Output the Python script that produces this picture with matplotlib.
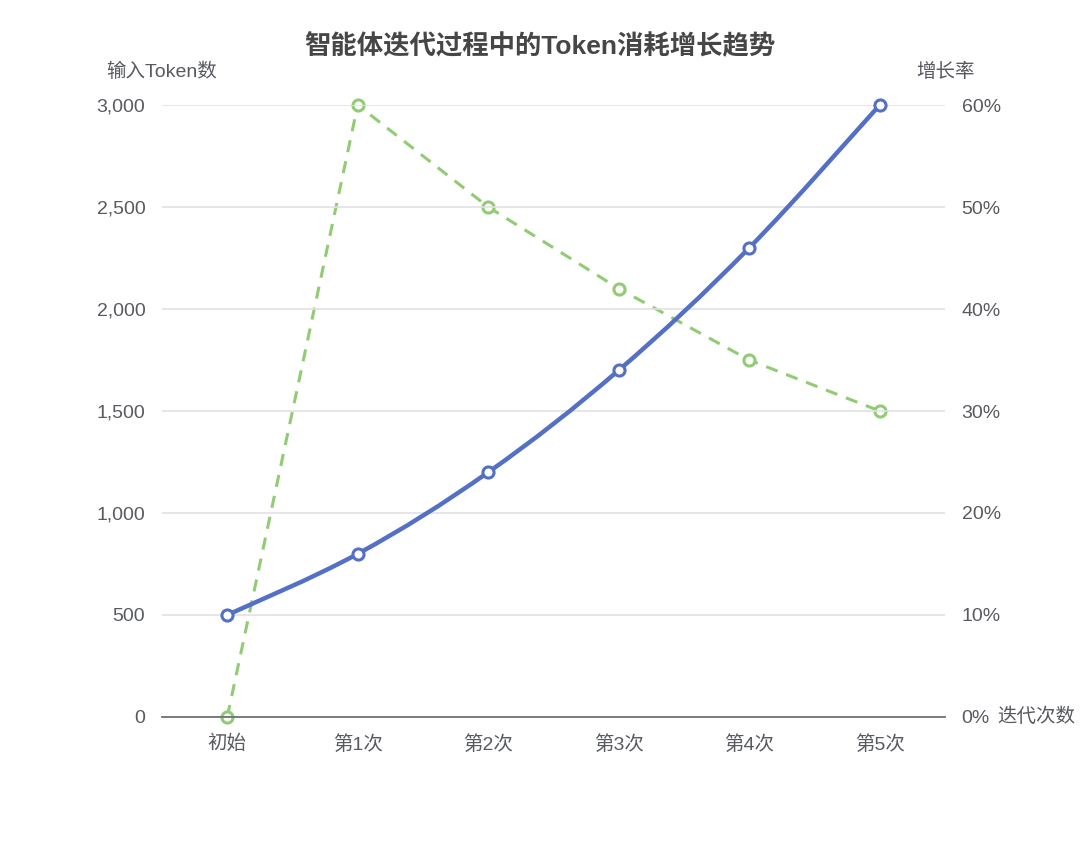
import numpy as np
import matplotlib
matplotlib.use("Agg")
from matplotlib import pyplot as plt
from matplotlib.path import Path
from matplotlib.patches import PathPatch
from matplotlib.ticker import FuncFormatter

plt.rcParams['font.family'] = ['Liberation Sans', 'Noto Sans CJK SC', 'DejaVu Sans']

# data
categories = ['初始', '第1次', '第2次', '第3次', '第4次', '第5次']
tokens = [500, 800, 1200, 1700, 2300, 3000]
growth = [0, 60, 50, 42, 35, 30]

blue = '#5470c6'
green = '#91cc75'
label_col = '#585a60'

fig = plt.figure(figsize=(10.8, 8.47), dpi=100)
ax = fig.add_axes([0.15, 0.1535, 0.725, 0.7225])
ax2 = ax.twinx()

x = np.arange(len(categories))

# smooth line as bezier path (echarts-like smoothing)
def smooth_path(xs, ys, k=0.35):
    verts = [(xs[0], ys[0])]
    codes = [Path.MOVETO]
    n = len(xs)
    for i in range(n - 1):
        p0 = (xs[max(i - 1, 0)], ys[max(i - 1, 0)])
        p1 = (xs[i], ys[i])
        p2 = (xs[i + 1], ys[i + 1])
        p3 = (xs[min(i + 2, n - 1)], ys[min(i + 2, n - 1)])
        c1 = (p1[0] + (p2[0] - p0[0]) * k / 2, p1[1] + (p2[1] - p0[1]) * k / 2)
        c2 = (p2[0] - (p3[0] - p1[0]) * k / 2, p2[1] - (p3[1] - p1[1]) * k / 2)
        verts += [c1, c2, p2]
        codes += [Path.CURVE4] * 3
    return Path(verts, codes)

ax.add_patch(PathPatch(smooth_path(x, tokens), fill=False, edgecolor=blue,
                       lw=3.2, zorder=3, capstyle='round', clip_on=False))
ax.plot(x, tokens, ls='none', marker='o', ms=8, mfc='white', mec=blue,
        mew=2.2, zorder=4, clip_on=False)

ax2.plot(x, growth, color=green, lw=2.2, ls=(0, (4, 3)), marker='o', ms=8,
         mfc='white', mec=green, mew=2.2, zorder=4, clip_on=False)

ax.set_xlim(-0.5, len(categories) - 0.5)
ax.set_ylim(0, 3000)
ax2.set_ylim(0, 60)
ax.set_yticks(np.arange(0, 3001, 500))
ax2.set_yticks(np.arange(0, 61, 10))
ax.yaxis.set_major_formatter(FuncFormatter(lambda v, p: f'{int(v):,}'))
ax2.yaxis.set_major_formatter(FuncFormatter(lambda v, p: f'{int(v)}%'))
ax.set_xticks(x)
ax.set_xticklabels(categories)

ax.grid(axis='y', color='#e0e0e6', lw=1.2)
ax.set_axisbelow(True)
for a in (ax, ax2):
    for s in a.spines.values():
        s.set_visible(False)
    a.tick_params(length=0, labelsize=14, labelcolor=label_col)
ax.spines['bottom'].set_visible(True)
ax.spines['bottom'].set_color('#6e7079')
ax.spines['bottom'].set_linewidth(1.3)
ax.tick_params(axis='y', pad=12)
ax2.tick_params(axis='y', pad=12)
ax.tick_params(axis='x', pad=13)

ax2.set_zorder(ax.get_zorder() + 1)
ax2.patch.set_visible(False)
ax.set_zorder(ax2.get_zorder() + 1)
ax.patch.set_visible(False)

fig.text(0.5, 0.945, '智能体迭代过程中的Token消耗增长趋势', ha='center', va='center',
         fontsize=19, fontweight='bold', color='#464646')
fig.text(0.15, 0.915, '输入Token数', ha='center', va='center', fontsize=14,
         color=label_col)
fig.text(0.875, 0.915, '增长率', ha='center', va='center', fontsize=14,
         color=label_col)
fig.text(0.923, 0.1535, '迭代次数', ha='left', va='center', fontsize=14,
         color=label_col)

fig.savefig('out.png', dpi=100, facecolor='white')
